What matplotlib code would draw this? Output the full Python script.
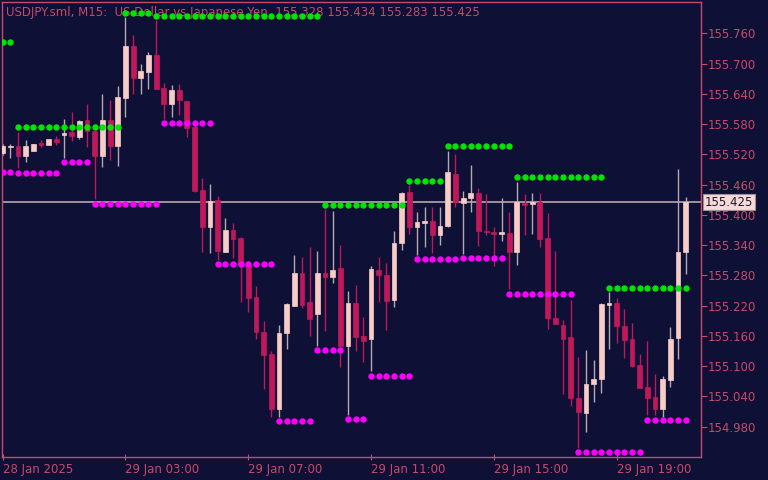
import numpy as np
import matplotlib
matplotlib.use("Agg")
import matplotlib.pyplot as plt

nan = np.nan
opens = [155.522,155.534,155.536,155.517,155.527,155.543,155.539,155.551,155.558,155.564,155.555,155.588,155.566,155.517,155.588,155.537,155.632,155.735,155.672,155.684,155.717,155.651,155.619,155.648,155.626,155.575,155.449,155.375,155.429,155.327,155.370,155.355,155.301,155.238,155.168,155.124,155.014,155.165,155.219,155.285,155.228,155.203,155.285,155.276,155.294,155.139,155.226,155.160,155.153,155.291,155.281,155.231,155.345,155.445,155.375,155.383,155.388,155.359,155.377,155.481,155.423,155.434,155.443,155.368,155.365,155.362,155.363,155.326,155.423,155.422,155.425,155.355,155.196,155.182,155.157,155.037,155.008,155.064,155.074,155.221,155.226,155.180,155.154,155.102,155.058,155.038,155.015,155.072,155.156,155.327]
highs = [155.540,155.540,155.565,155.548,155.541,155.548,155.551,155.556,155.590,155.603,155.588,155.619,155.567,155.640,155.628,155.655,155.792,155.756,155.700,155.722,155.786,155.661,155.657,155.659,155.626,155.586,155.474,155.461,155.437,155.393,155.383,155.357,155.301,155.259,155.190,155.129,155.182,155.226,155.320,155.317,155.336,155.329,155.412,155.408,155.340,155.248,155.261,155.198,155.299,155.316,155.304,155.368,155.446,155.459,155.405,155.415,155.415,155.415,155.527,155.520,155.447,155.499,155.453,155.441,155.375,155.433,155.405,155.466,155.441,155.444,155.444,155.404,155.328,155.191,155.231,155.119,155.132,155.112,155.226,155.246,155.236,155.213,155.185,155.124,155.150,155.084,155.081,155.177,155.491,155.436]
lows = [155.518,155.512,155.492,155.505,155.526,155.535,155.538,155.538,155.512,155.547,155.551,155.534,155.431,155.494,155.509,155.496,155.593,155.640,155.640,155.649,155.650,155.590,155.593,155.598,155.554,155.446,155.326,155.324,155.310,155.326,155.315,155.228,155.208,155.153,155.054,155.000,155.000,155.133,155.219,155.215,155.160,155.139,155.170,155.264,155.099,155.003,155.129,155.109,155.091,155.228,155.172,155.218,155.330,155.361,155.320,155.337,155.324,155.340,155.375,155.416,155.322,155.406,155.339,155.359,155.299,155.349,155.252,155.301,155.360,155.361,155.337,155.174,155.183,155.044,155.021,154.938,154.970,155.029,155.047,155.133,155.146,155.117,155.099,155.056,155.003,155.003,154.999,155.058,155.114,155.282]
closes = [155.536,155.537,155.517,155.536,155.540,155.539,155.550,155.544,155.563,155.556,155.587,155.567,155.517,155.588,155.537,155.633,155.735,155.672,155.685,155.717,155.650,155.619,155.648,155.628,155.573,155.447,155.375,155.428,155.328,155.370,155.352,155.302,155.236,155.168,155.122,155.014,155.166,155.223,155.285,155.221,155.193,155.285,155.276,155.291,155.139,155.226,155.158,155.150,155.293,155.281,155.229,155.345,155.443,155.375,155.385,155.388,155.360,155.377,155.484,155.425,155.433,155.443,155.367,155.365,155.362,155.365,155.326,155.425,155.419,155.426,155.352,155.195,155.183,155.154,155.037,155.010,155.064,155.074,155.223,155.226,155.180,155.152,155.101,155.056,155.036,155.015,155.074,155.154,155.327,155.425]

# resistance / support levels (segments: first index, last index, price)
res_levels = [(-1, 0, 155.742), (1, 14, 155.574), (15, 18, 155.801), (19, 40, 155.795),
              (41, 51, 155.420), (52, 56, 155.468), (57, 65, 155.536), (66, 77, 155.475), (78, 88, 155.254)]
sup_levels = [(-1, 0, 155.485), (1, 6, 155.483), (7, 10, 155.504), (11, 19, 155.422),
              (20, 26, 155.582), (27, 34, 155.302), (35, 39, 154.992), (40, 43, 155.131),
              (44, 46, 154.995), (47, 52, 155.081), (53, 58, 155.312), (59, 64, 155.314),
              (65, 73, 155.243), (74, 82, 154.930), (83, 88, 154.994)]

yticks = [155.760, 155.700, 155.640, 155.580, 155.520, 155.460, 155.400, 155.340, 155.280, 155.220, 155.160, 155.100, 155.040, 154.980]
xtick_pos = [-1, 15, 31, 47, 63, 79]
xtick_labels = ["28 Jan 2025", "29 Jan 03:00", "29 Jan 07:00", "29 Jan 11:00", "29 Jan 15:00", "29 Jan 19:00"]
title = "USDJPY.sml, M15:  US Dollar vs Japanese Yen  155.328 155.434 155.283 155.425"
last_price = 155.425

BG = "#0e1035"
FG = "#c84a68"
BULL = "#f8cdc8"
BEAR = "#c0185a"

fig = plt.figure(figsize=(7.68, 4.8), dpi=100, facecolor=BG)
ax = fig.add_axes([0.003, 0.0473, 0.9098, 0.948], facecolor=BG)

x = np.arange(-1, -1 + len(opens))
o = np.array(opens); h = np.array(highs); l = np.array(lows); c = np.array(closes)
bull = c >= o

ax.axhline(last_price, color="#b8a8b0", lw=1.2, zorder=1)

for xi, oi, hi, li, ci, b in zip(x, o, h, l, c, bull):
    col = BULL if b else BEAR
    wcol = "#b8a8b0" if b else BEAR
    ax.vlines(xi, li, hi, color=wcol, lw=1, zorder=2)
    lo_b, hi_b = min(oi, ci), max(oi, ci)
    if hi_b - lo_b < 0.003:
        mid = (hi_b + lo_b) / 2
        lo_b, hi_b = mid - 0.0015, mid + 0.0015
    ax.bar(xi, hi_b - lo_b, bottom=lo_b, width=0.62, color=col, edgecolor=col, lw=0.5, zorder=3)

for a, b_, p in res_levels:
    xs = np.arange(a, b_ + 1)
    ax.plot(xs, [p] * len(xs), ls="none", marker="o", ms=3.6, color="#00e600", zorder=4)
for a, b_, p in sup_levels:
    xs = np.arange(a, b_ + 1)
    ax.plot(xs, [p] * len(xs), ls="none", marker="o", ms=3.6, color="#ff00ff", zorder=4)

ax.set_xlim(-1.05, 90.0)
ax.set_ylim(154.9192, 155.8215)

ax.yaxis.tick_right()
ax.set_yticks(yticks)
ax.set_yticklabels([f"{v:.3f}" for v in yticks])
ax.tick_params(axis="y", colors=FG, labelcolor=FG, labelsize=8.5, length=4, pad=1)
ax.set_xticks(xtick_pos)
ax.set_xticklabels(xtick_labels)
for lab in ax.get_xticklabels():
    lab.set_horizontalalignment("left")
ax.tick_params(axis="x", colors=FG, labelcolor=FG, labelsize=8.5, length=4, pad=2, direction="inout")
for s in ax.spines.values():
    s.set_color(FG)
    s.set_linewidth(1)

ax.text(0.005, 0.992, title, transform=ax.transAxes, color=FG, fontsize=8.5, va="top", ha="left", zorder=0)
ax.text(1.005, last_price, f"{last_price:.3f}", transform=ax.get_yaxis_transform(), color="#1a1a2a",
        fontsize=8.5, va="center", ha="left",
        bbox=dict(boxstyle="square,pad=0.15", fc="#f8d8d8", ec="#a09098", lw=0.8), zorder=10)

fig.savefig("out.png", dpi=100, facecolor=BG)
